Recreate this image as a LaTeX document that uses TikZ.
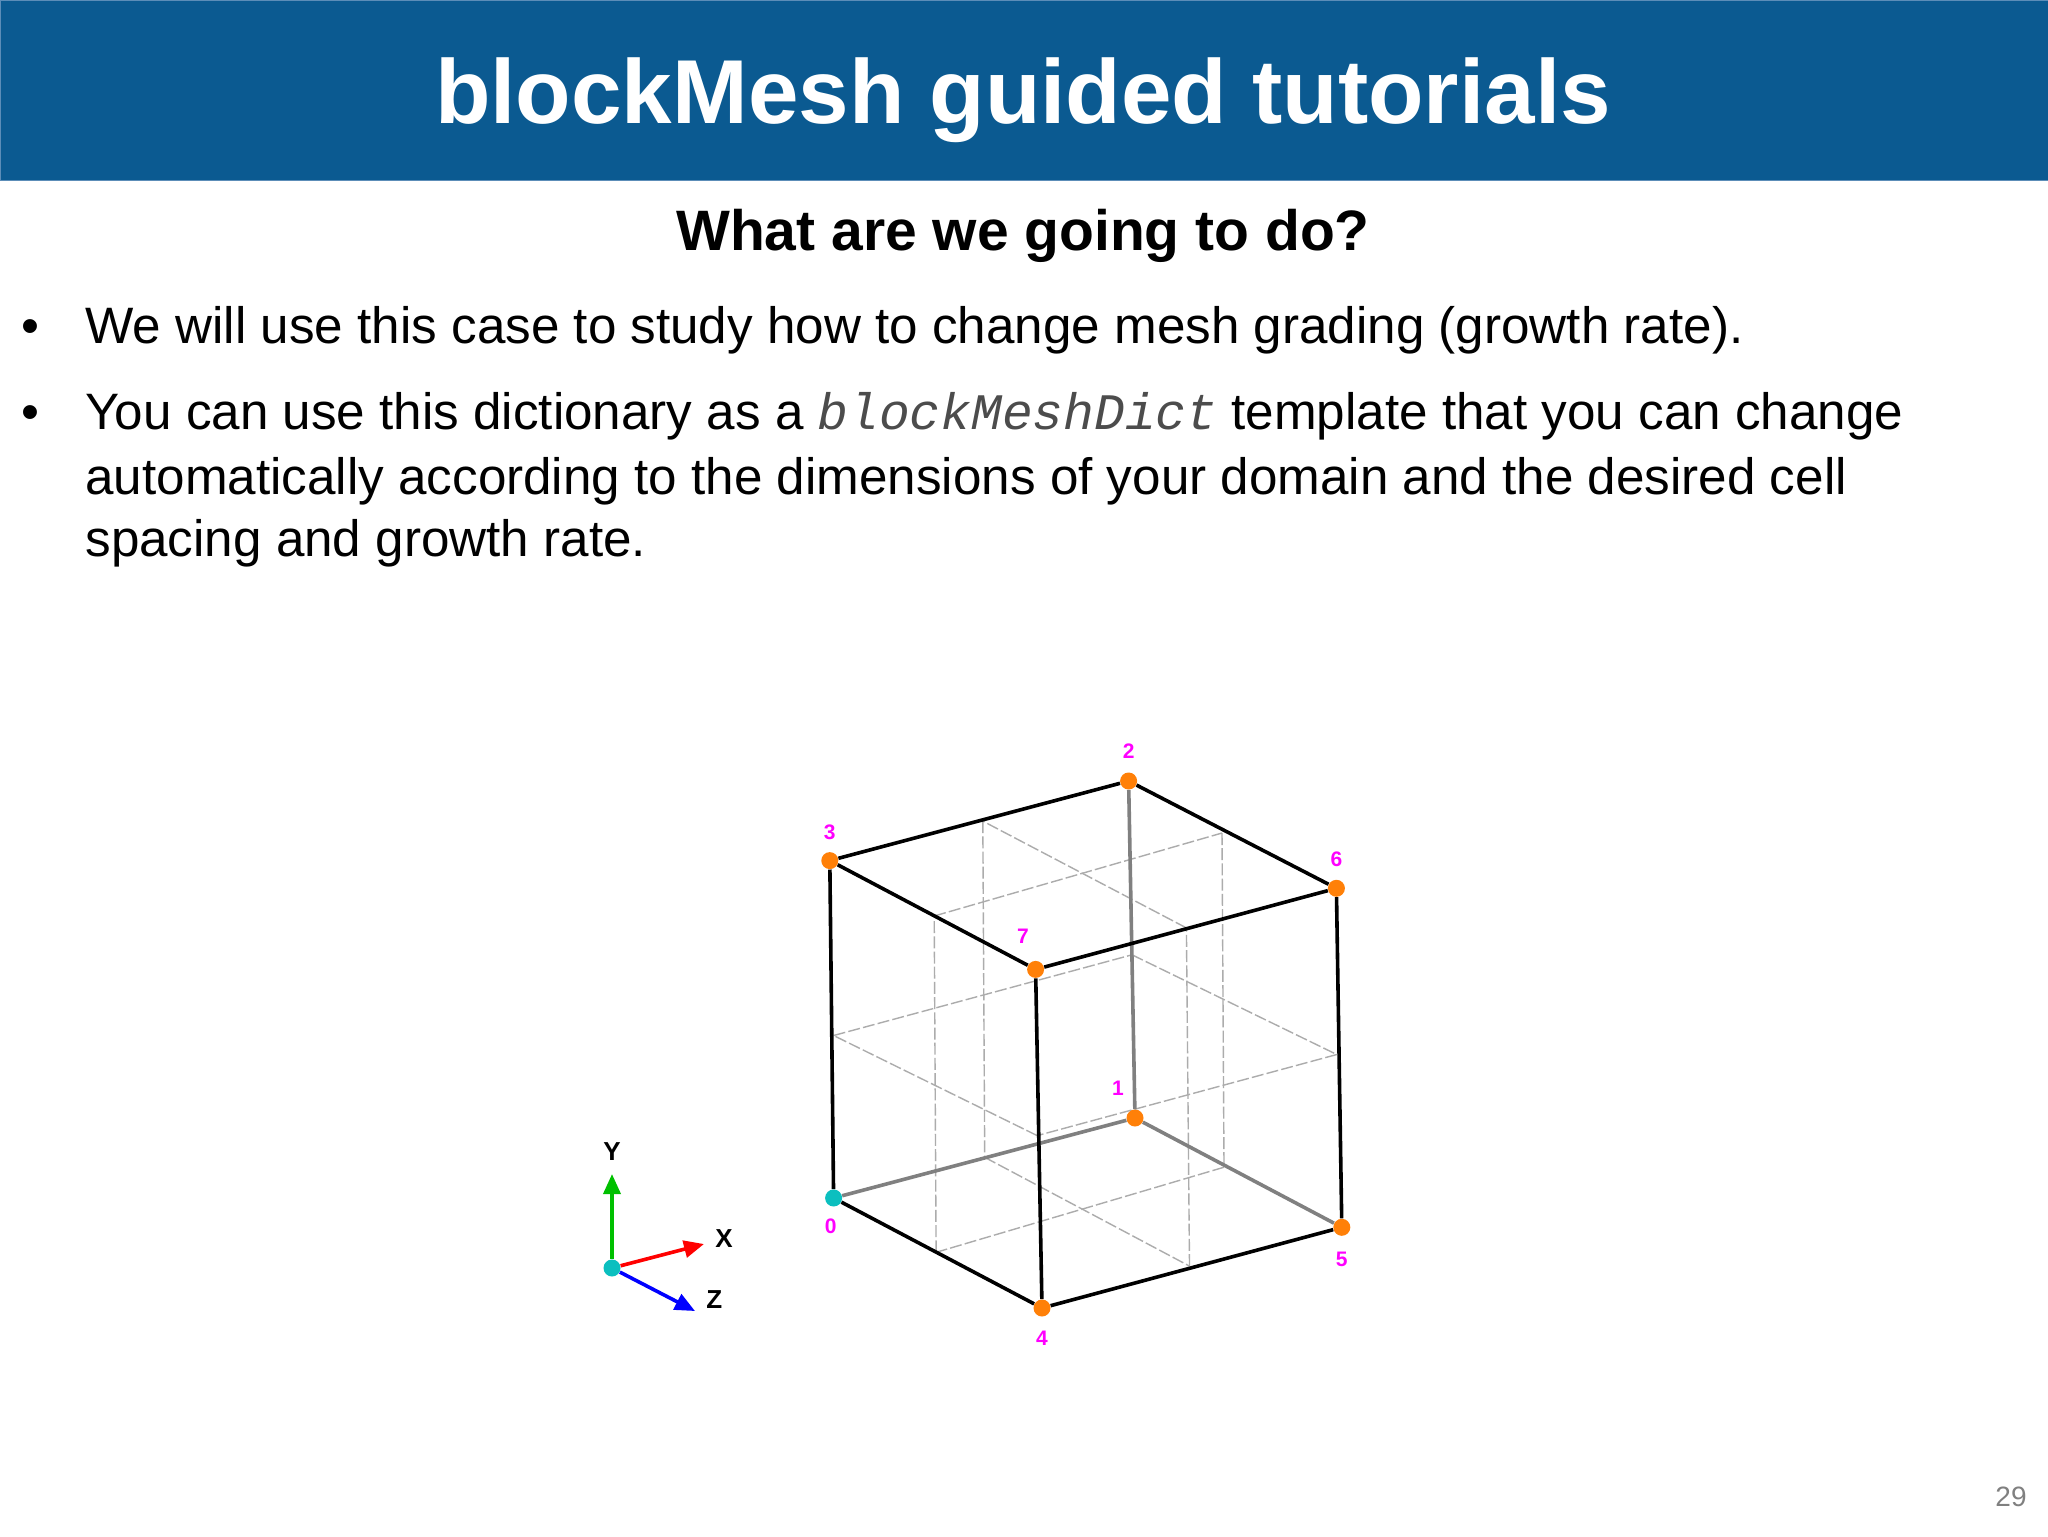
\documentclass[tikz,border=0pt]{standalone}
\usepackage{fontspec}
\setmainfont{Liberation Sans}
\newfontfamily\dictfont{Liberation Mono}
\usetikzlibrary{positioning,arrows.meta}
\definecolor{bandblue}{HTML}{0B5A91}
\definecolor{bandedge}{HTML}{5C8DB8}
\definecolor{vertexorange}{HTML}{FF8008}
\definecolor{vertexteal}{HTML}{0BBFBF}
\definecolor{axisgreen}{HTML}{00C000}
\definecolor{labelpink}{HTML}{FF00FF}
\definecolor{dashgray}{HTML}{ACACAC}
\definecolor{edgegray}{HTML}{808080}
\tikzset{
  vertex/.style={circle,fill=vertexorange,inner sep=0pt,minimum size=8.5pt},
  origin/.style={vertex,fill=vertexteal},
  vlabel/.style={text=labelpink,inner sep=0pt,font=\bfseries\fontsize{10.5}{12}\selectfont},
  axlabel/.style={inner sep=0pt,font=\bfseries\fontsize{13}{15}\selectfont},
  bodytext/.style={anchor=base west,inner sep=0pt,font=\fontsize{25.6}{31}\selectfont},
  bullet/.style={anchor=base,inner sep=0pt,font=\fontsize{25.6}{31}\selectfont},
  front/.style={line width=1.8pt,black},
  back/.style={line width=1.8pt,edgegray},
  cut/.style={line width=0.7pt,dashgray,dash pattern=on 6pt off 1.6pt},
  axis/.style={line width=1.8pt,-{Triangle[length=10pt,width=8.5pt]}}
}
\begin{document}
\begin{tikzpicture}[x=0.5pt,y=-0.5pt,node distance=15pt,on grid]
    \useasboundingbox (0,0) rectangle (2048,1536);
    \fill[white] (0,0) rectangle (2048,1536);
    \draw[bandedge,fill=bandblue] (0,0) rectangle (2048,180);

    \node[text=white,anchor=base,inner sep=0pt,font=\bfseries\fontsize{45.4}{50}\selectfont] (title) at (1023,124) {blockMesh guided tutorials};
    \node[anchor=base,inner sep=0pt,font=\bfseries\fontsize{28.5}{34}\selectfont] (question) at (1023,250) {What are we going to do?};
    \node[bullet] (dot_a) at (30,343) {\textbullet};
    \node[bodytext] (line_a) at (85,343) {We will use this case to study how to change mesh grading (growth rate).};
    \node[bullet] (dot_b) at (30,429) {\textbullet};
    \node[bodytext] (line_b) at (85,429) {You can use this dictionary as a {\dictfont\itshape\color{black!70}blockMeshDict} template that you can change};
    \node[bodytext] (line_c) at (85,494) {automatically according to the dimensions of your domain and the desired cell};
    \node[bodytext] (line_d) at (85,556) {spacing and growth rate.};
    \node[anchor=base east,inner sep=0pt,text=gray,font=\fontsize{14}{16}\selectfont] (page) at (2027,1506) {29};

    \coordinate (c_a) at (833.6,1035.5);
    \coordinate (c_b) at (1132,954.8);
    \coordinate (c_c) at (1336.8,1054.5);
    \coordinate (c_d) at (1037.2,1135.6);
    \coordinate (c_e) at (982.8,821.1);
    \coordinate (c_f) at (984.7,1157.3);
    \coordinate (c_g) at (1189.5,1266.1);
    \coordinate (c_h) at (1186.4,927.9);
    \coordinate (c_i) at (1222,833);
    \coordinate (c_j) at (1224,1167.2);
    \coordinate (c_k) at (936.1,1252.3);
    \coordinate (c_l) at (934.2,916);

    \path[cut]
    (c_a) edge (c_b)
    (c_b) edge (c_c)
    (c_c) edge (c_d)
    (c_d) edge (c_a)
    (c_e) edge (c_f)
    (c_f) edge (c_g)
    (c_g) edge (c_h)
    (c_h) edge (c_e)
    (c_i) edge (c_j)
    (c_j) edge (c_k)
    (c_k) edge (c_l)
    (c_l) edge (c_i);

    \node[origin] (v_0) at (833.6,1198) {};
    \node[vertex] (v_1) at (1135,1118) {};
    \node[vertex] (v_2) at (1128.6,781) {};
    \node[vertex] (v_3) at (829.8,860.6) {};
    \node[vertex] (v_4) at (1042,1308) {};
    \node[vertex] (v_5) at (1341.8,1227.3) {};
    \node[vertex] (v_6) at (1336.4,888.3) {};
    \node[vertex] (v_7) at (1035.6,969.4) {};

    \node[vlabel] (l_0) [below left=14.2pt and 1.4pt of v_0] {0};
    \node[vlabel] (l_1) [above left=15pt and 8.5pt of v_1] {1};
    \node[vlabel] (l_2) [above=14.8pt of v_2] {2};
    \node[vlabel] (l_3) [above=14.4pt of v_3] {3};
    \node[vlabel] (l_4) [below=15.2pt of v_4] {4};
    \node[vlabel] (l_5) [below=15.8pt of v_5] {5};
    \node[vlabel] (l_6) [above=14.4pt of v_6] {6};
    \node[vlabel] (l_7) [above left=16.8pt and 6.3pt of v_7] {7};

    \path[back]
    (v_0) edge (v_1)
    (v_1) edge (v_2)
    (v_1) edge (v_5);
    \path[front]
    (v_0) edge (v_3)
    (v_0) edge (v_4)
    (v_3) edge (v_2)
    (v_3) edge (v_7)
    (v_2) edge (v_6)
    (v_7) edge (v_6)
    (v_7) edge (v_4)
    (v_4) edge (v_5)
    (v_6) edge (v_5);

    \node[origin] (o) at (612,1268) {};
    \coordinate (t_x) at (704,1244);
    \coordinate (t_y) at (612,1174);
    \coordinate (t_z) at (695,1311);
    \node[axlabel] (l_x) [above right=-2pt and 5.5pt of t_x] {X};
    \node[axlabel] (l_y) [above=6.5pt of t_y] {Y};
    \node[axlabel] (l_z) [above right=1pt and 5.5pt of t_z] {Z};
    \draw[axis,red] (o) -- (t_x);
    \draw[axis,axisgreen] (o) -- (t_y);
    \draw[axis,blue] (o) -- (t_z);
  \end{tikzpicture}
\end{document}
